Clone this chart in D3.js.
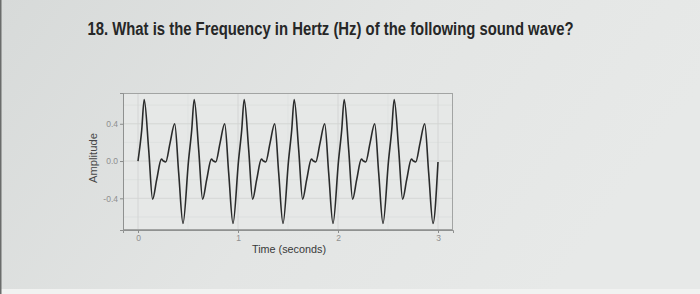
<!DOCTYPE html>
<html>
<head>
<meta charset="utf-8">
<script src="https://cdn.jsdelivr.net/npm/d3@7"></script>
<style>
  html, body { margin: 0; padding: 0; background: #dfe1e0; }
  svg { display: block; }
</style>
</head>
<body>
<svg id="chart" width="700" height="294"></svg>
<script>
// ---- data ----
const titleText = "18. What is the Frequency in Hertz (Hz) of the following sound wave?";
const xLabel = "Time (seconds)";
const yLabel = "Amplitude";
const xTicks = [0, 1, 2, 3];
const xTickLabels = ["0", "1", "2", "3"];
const yTicks = [-0.4, 0.0, 0.4];
const yTickLabels = ["-0.4", "0.0", "0.4"];

const time = [
  0.000, 0.037, 0.062, 0.107, 0.146, 0.187, 0.234, 0.255, 0.277, 0.320, 0.367, 0.407, 0.450,
  0.505, 0.537, 0.562, 0.607, 0.646, 0.687, 0.734, 0.755, 0.777, 0.820, 0.867, 0.907, 0.950,
  1.005, 1.037, 1.062, 1.107, 1.146, 1.187, 1.234, 1.255, 1.277, 1.320, 1.367, 1.407, 1.450,
  1.505, 1.537, 1.562, 1.607, 1.646, 1.687, 1.734, 1.755, 1.777, 1.820, 1.867, 1.907, 1.950,
  2.005, 2.037, 2.062, 2.107, 2.146, 2.187, 2.234, 2.255, 2.277, 2.320, 2.367, 2.407, 2.450,
  2.505, 2.537, 2.562, 2.607, 2.646, 2.687, 2.734, 2.755, 2.777, 2.820, 2.867, 2.907, 2.950,
  3.000
];
const amplitude = [
  0.00, 0.33, 0.66, 0.12, -0.41, -0.20, 0.02, 0.00, -0.01, 0.19, 0.40, -0.13, -0.67,
  0.00, 0.33, 0.66, 0.12, -0.41, -0.20, 0.02, 0.00, -0.01, 0.19, 0.40, -0.13, -0.67,
  0.00, 0.33, 0.66, 0.12, -0.41, -0.20, 0.02, 0.00, -0.01, 0.19, 0.40, -0.13, -0.67,
  0.00, 0.33, 0.66, 0.12, -0.41, -0.20, 0.02, 0.00, -0.01, 0.19, 0.40, -0.13, -0.67,
  0.00, 0.33, 0.66, 0.12, -0.41, -0.20, 0.02, 0.00, -0.01, 0.19, 0.40, -0.13, -0.67,
  0.00, 0.33, 0.66, 0.12, -0.41, -0.20, 0.02, 0.00, -0.01, 0.19, 0.40, -0.13, -0.67,
  -0.01
];
const xMinorGrid = [0.5, 1.5, 2.5];
const yMinorGrid = [-0.6, -0.2, 0.2, 0.6];

// ---- drawing ----
const svg = d3.select("#chart");
const W = 700, H = 294;

const defs = svg.append("defs");
const grad = defs.append("linearGradient").attr("id", "bg").attr("x1", 0).attr("x2", 1).attr("y1", 0).attr("y2", 0.3);
grad.append("stop").attr("offset", "0%").attr("stop-color", "#d7dad9");
grad.append("stop").attr("offset", "55%").attr("stop-color", "#e3e5e4");
grad.append("stop").attr("offset", "100%").attr("stop-color", "#e7e9e8");
svg.append("rect").attr("width", W).attr("height", H).attr("fill", "url(#bg)");
svg.append("rect").attr("x", 0).attr("y", 289).attr("width", W).attr("height", 5).attr("fill", "#f1f2f1");
svg.append("rect").attr("x", 0).attr("y", 0).attr("width", 1.5).attr("height", H).attr("fill", "#6a6c6b");

svg.append("text")
  .attr("x", 87.5).attr("y", 35)
  .attr("font-family", "Liberation Sans, Arial, sans-serif")
  .attr("font-weight", "bold")
  .attr("font-size", 18)
  .attr("textLength", 486).attr("lengthAdjust", "spacingAndGlyphs")
  .attr("fill", "#262727")
  .text(titleText);

const panel = {left: 123, right: 453, top: 93, bottom: 230};
const x = d3.scaleLinear().domain([-0.15, 3.15]).range([panel.left, panel.right]);
const y = d3.scaleLinear().domain([-0.74, 0.73]).range([panel.bottom, panel.top]);

svg.append("rect")
  .attr("x", panel.left).attr("y", panel.top)
  .attr("width", panel.right - panel.left).attr("height", panel.bottom - panel.top)
  .attr("fill", "#e6e8e7");

const grid = svg.append("g");
grid.selectAll(".ymin").data(yMinorGrid).join("line")
  .attr("x1", panel.left).attr("x2", panel.right)
  .attr("y1", d => y(d)).attr("y2", d => y(d))
  .attr("stroke", "#d9dbda").attr("stroke-width", 0.6);
grid.selectAll(".xmin").data(xMinorGrid).join("line")
  .attr("y1", panel.top).attr("y2", panel.bottom)
  .attr("x1", d => x(d)).attr("x2", d => x(d))
  .attr("stroke", "#dcdedd").attr("stroke-width", 0.6);
grid.selectAll(".ymaj").data(yTicks).join("line")
  .attr("x1", panel.left).attr("x2", panel.right)
  .attr("y1", d => y(d)).attr("y2", d => y(d))
  .attr("stroke", "#d2d4d3").attr("stroke-width", 0.9);
grid.selectAll(".xmaj").data(xTicks).join("line")
  .attr("y1", panel.top).attr("y2", panel.bottom)
  .attr("x1", d => x(d)).attr("x2", d => x(d))
  .attr("stroke", "#d2d4d3").attr("stroke-width", 0.9);

const line = d3.line()
  .x((d, i) => x(time[i]))
  .y((d, i) => y(amplitude[i]))
  .curve(d3.curveMonotoneX);
svg.append("path")
  .datum(amplitude)
  .attr("d", line)
  .attr("fill", "none")
  .attr("stroke", "#2a2b2b")
  .attr("stroke-width", 1.6)
  .attr("stroke-linejoin", "round");

svg.append("rect")
  .attr("x", panel.left + 0.5).attr("y", panel.top + 0.5)
  .attr("width", panel.right - panel.left - 1).attr("height", panel.bottom - panel.top - 1)
  .attr("fill", "none").attr("stroke", "#a2a4a3").attr("stroke-width", 1);

const xAxis = d3.axisBottom(x).tickValues(xTicks).tickFormat((d, i) => xTickLabels[i]).tickSize(3).tickPadding(2);
const gx = svg.append("g").attr("transform", `translate(0,${panel.bottom})`).call(xAxis);
gx.select(".domain").attr("stroke", "#8f9190");
gx.selectAll(".tick line").attr("stroke", "#8a8c8b");
gx.selectAll(".tick text").attr("font-family", "Liberation Sans, Arial, sans-serif")
  .attr("font-size", 8.5).attr("fill", "#8e8f8f");

const yAxis = d3.axisLeft(y).tickValues(yTicks).tickFormat((d, i) => yTickLabels[i]).tickSize(3).tickPadding(2);
const gy = svg.append("g").attr("transform", `translate(${panel.left},0)`).call(yAxis);
gy.select(".domain").attr("stroke", "#8f9190");
gy.selectAll(".tick line").attr("stroke", "#8a8c8b");
gy.selectAll(".tick text").attr("font-family", "Liberation Sans, Arial, sans-serif")
  .attr("font-size", 8.5).attr("fill", "#8e8f8f");

svg.append("text")
  .attr("x", 289).attr("y", 253)
  .attr("text-anchor", "middle")
  .attr("font-family", "Liberation Sans, Arial, sans-serif")
  .attr("font-size", 10.5)
  .attr("textLength", 74).attr("lengthAdjust", "spacingAndGlyphs")
  .attr("fill", "#383939")
  .text(xLabel);

svg.append("text")
  .attr("transform", "translate(97,158) rotate(-90)")
  .attr("text-anchor", "middle")
  .attr("font-family", "Liberation Sans, Arial, sans-serif")
  .attr("font-size", 10.5)
  .attr("textLength", 50).attr("lengthAdjust", "spacingAndGlyphs")
  .attr("fill", "#454646")
  .text(yLabel);
</script>
</body>
</html>
